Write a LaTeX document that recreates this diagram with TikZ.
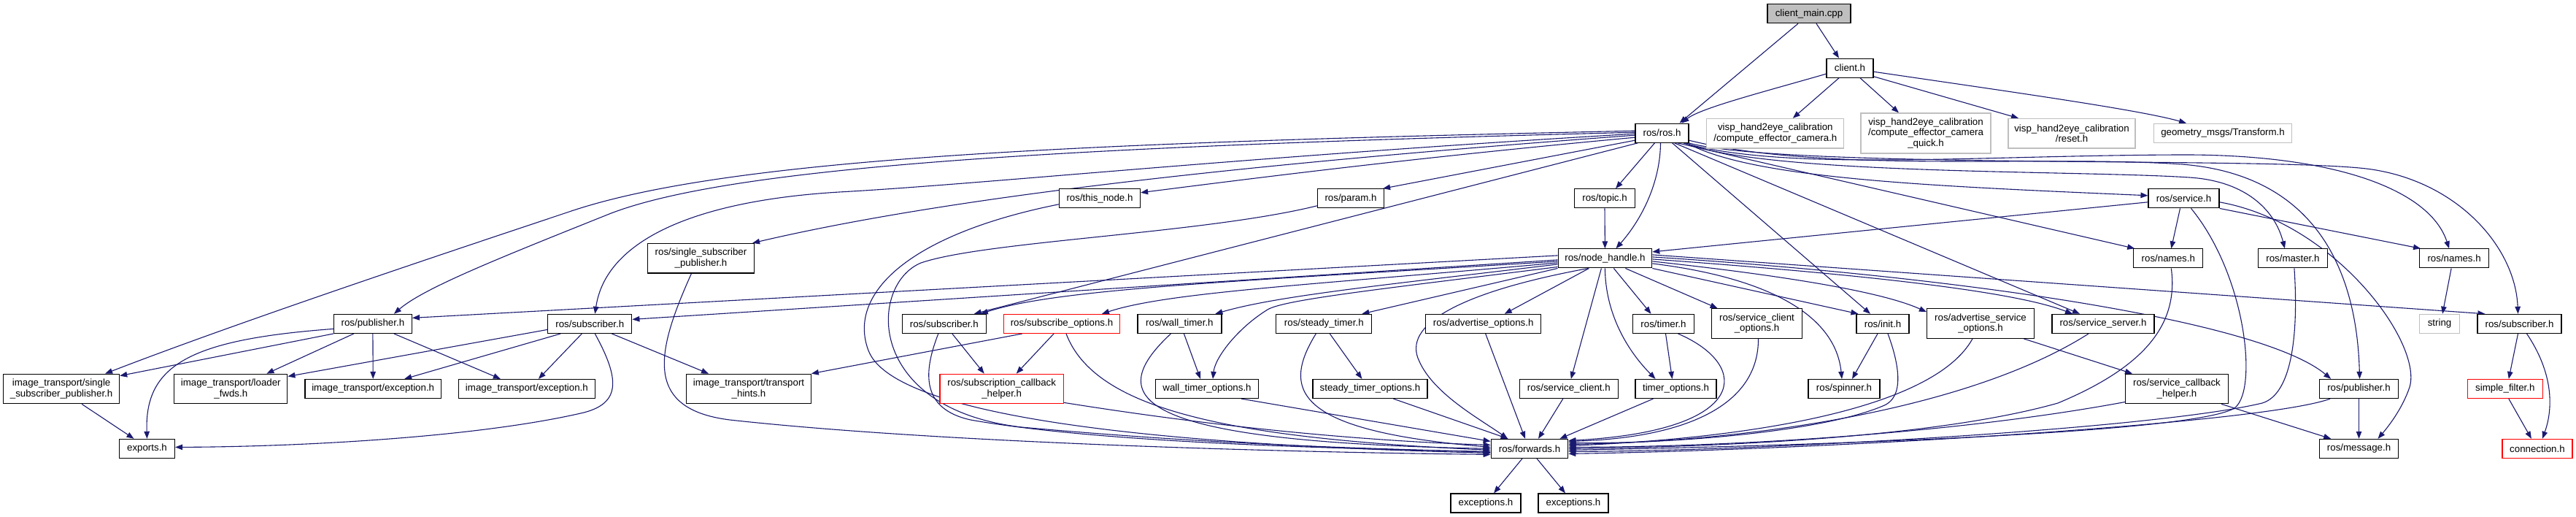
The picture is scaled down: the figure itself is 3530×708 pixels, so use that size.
\documentclass[tikz,border=0pt]{standalone}
\usepackage{fontspec}
\setmainfont{Liberation Sans}
\usetikzlibrary{arrows.meta,calc}
\definecolor{edgecol}{HTML}{191970}
\definecolor{greybd}{HTML}{BFBFBF}
\definecolor{redbd}{HTML}{FF0000}
\pgfdeclarelayer{bg}
\pgfsetlayers{bg,main}
\tikzset{
  box/.style={draw=black, line width=1.2pt, fill=white, inner sep=0pt, align=center,
    font=\fontsize{13.3pt}{14.5pt}\selectfont, minimum height=26pt},
  greybox/.style={box, draw=greybd},
  redbox/.style={box, draw=redbd},
  rootbox/.style={box, fill=greybd},
  two/.style={minimum height=40.5pt},
  three/.style={minimum height=55pt},
  edge/.style={draw=edgecol, line width=1.1pt, -{Triangle[length=10pt,width=7.5pt]}}
}
\begin{document}
\begin{tikzpicture}[x=1pt,y=-1pt]
\useasboundingbox (0,0) rectangle (3530,708);
% ---- nodes ----
\node[rootbox, minimum width=114pt] (cm) at (2479,18.7) {client\_main.cpp};
\node[box, minimum width=64pt] (clienth) at (2535,93.2) {client.h};
\node[box, minimum width=73pt] (rosh) at (2277.5,182.2) {ros/ros.h};
\node[greybox, two, minimum width=188pt] (vce) at (2432.8,182.7) {visp\_hand2eye\_calibration\\/compute\_effector\_camera.h};
\node[greybox, three, minimum width=178pt] (vq) at (2639,182.5) {visp\_hand2eye\_calibration\\/compute\_effector\_camera\\\_quick.h};
\node[greybox, two, minimum width=174pt] (vr) at (2839,182.7) {visp\_hand2eye\_calibration\\/reset.h};
\node[greybox, minimum width=189pt] (geo) at (3046,182.2) {geometry\_msgs/Transform.h};

\node[box, minimum width=111pt] (thisnode) at (1507,271.8) {ros/this\_node.h};
\node[box, minimum width=91pt] (param) at (1851,271.8) {ros/param.h};
\node[box, minimum width=83pt] (topic) at (2199,271.8) {ros/topic.h};
\node[box, minimum width=97pt] (service) at (2992.5,271.8) {ros/service.h};
\node[box, two, minimum width=146pt] (rssp) at (960.5,353.7) {ros/single\_subscriber\\\_publisher.h};

\node[box, minimum width=128.6pt] (nh) at (2199.4,353.9) {ros/node\_handle.h};
\node[box, minimum width=95pt] (names1) at (2971.3,353.9) {ros/names.h};
\node[box, minimum width=95pt] (master) at (3141.9,353.9) {ros/master.h};
\node[box, minimum width=95pt] (names2) at (3363.1,353.9) {ros/names.h};

\node[box, minimum width=107pt] (pubL) at (510.9,443.4) {ros/publisher.h};
\node[box, minimum width=115pt] (subL) at (808.3,443.4) {ros/subscriber.h};
\node[box, minimum width=115pt] (sub2) at (1293.8,443.4) {ros/subscriber.h};
\node[redbox, minimum width=159.5pt] (subopt) at (1455,443.4) {ros/subscribe\_options.h};
\node[box, minimum width=115pt] (walltimer) at (1616.4,443.4) {ros/wall\_timer.h};
\node[box, minimum width=131pt] (steady) at (1814.3,443.4) {ros/steady\_timer.h};
\node[box, minimum width=158pt] (advopt) at (2032.7,443.4) {ros/advertise\_options.h};
\node[box, minimum width=84pt] (timer) at (2279.5,443.4) {ros/timer.h};
\node[box, two, minimum width=124.6pt] (sco) at (2407.5,443) {ros/service\_client\\\_options.h};
\node[box, minimum width=72pt] (init) at (2580,443.4) {ros/init.h};
\node[box, two, minimum width=147pt] (aso) at (2714,443) {ros/advertise\_service\\\_options.h};
\node[box, minimum width=140pt] (sserver) at (2882,443.4) {ros/service\_server.h};
\node[greybox, minimum width=55pt] (string) at (3343,443.4) {string};
\node[box, minimum width=115pt] (sub3) at (3452.5,443.4) {ros/subscriber.h};

\node[box, two, minimum width=159pt] (itssp) at (84.1,532.5) {image\_transport/single\\\_subscriber\_publisher.h};
\node[box, two, minimum width=155pt] (itlf) at (316.3,532.5) {image\_transport/loader\\\_fwds.h};
\node[box, minimum width=186.6pt] (itex1) at (511.2,532.5) {image\_transport/exception.h};
\node[box, minimum width=186.6pt] (itex2) at (721.9,532.5) {image\_transport/exception.h};
\node[box, two, minimum width=170.5pt] (itth) at (1026,532.5) {image\_transport/transport\\\_hints.h};
\node[redbox, two, minimum width=169.4pt] (sch) at (1372.7,532.5) {ros/subscription\_callback\\\_helper.h};
\node[box, minimum width=140.7pt] (wto) at (1654,532.5) {wall\_timer\_options.h};
\node[box, minimum width=157pt] (sto) at (1877.4,532.5) {steady\_timer\_options.h};
\node[box, minimum width=135pt] (sclient) at (2149.8,532.5) {ros/service\_client.h};
\node[box, minimum width=111pt] (topt) at (2296.5,532.5) {timer\_options.h};
\node[box, minimum width=98pt] (spinner) at (2527,532.5) {ros/spinner.h};
\node[box, two, minimum width=141pt] (sch2) at (2983,532.5) {ros/service\_callback\\\_helper.h};
\node[box, minimum width=107.5pt] (pub2) at (3232.5,532.5) {ros/publisher.h};
\node[redbox, minimum width=103pt] (sfilter) at (3432.8,532.5) {simple\_filter.h};

\node[box, minimum width=76pt] (exports) at (201.5,614.4) {exports.h};
\node[box, minimum width=105.6pt] (fwd) at (2096,614.4) {ros/forwards.h};
\node[box, minimum width=107.5pt] (message) at (3232.5,614.4) {ros/message.h};
\node[redbox, minimum width=96pt] (conn) at (3476.9,614.4) {connection.h};

\node[box, minimum width=96pt] (exc1) at (2036,689) {exceptions.h};
\node[box, minimum width=96pt] (exc2) at (2156,689) {exceptions.h};

\begin{pgfonlayer}{bg}
\fill[white] (0,0) rectangle (3530,708);
% ---- edges: top ----
\draw[edge] ($(cm.south)+(-15,0)$) -- ($(rosh.north)+(24,0)$);
\draw[edge] ($(cm.south)+(10,0)$) -- ($(clienth.north)+(-15,0)$);
\draw[edge] ($(clienth.west)+(0,8)$) .. controls (2420,125) and (2330,148) .. ($(rosh.north)+(27,0)$);
\draw[edge] ($(clienth.south)+(-15,0)$) -- ($(vce.north)+(24,0)$);
\draw[edge] ($(clienth.south)+(14,0)$) -- ($(vq.north)+(-37,0)$);
\draw[edge] ($(clienth.south east)+(0,-2)$) -- ($(vr.north)+(-73,0)$);
\draw[edge] ($(clienth.east)+(0,5)$) .. controls (2750,125) and (2930,150) .. ($(geo.north)+(-50,0)$);

% ---- edges from ros/ros.h, left ----
\draw[edge] ($(rosh.west)+(0,-3)$) .. controls (1500,195) and (1000,215) .. (780,290) .. controls (600,350) and (330,440) .. ($(itssp.north)+(60,0)$);
\draw[edge] ($(rosh.west)+(0,-1)$) .. controls (1500,200) and (1000,225) .. (830,295) .. controls (680,355) and (580,395) .. ($(pubL.north)+(29,0)$);
\draw[edge] ($(rosh.west)+(0,1)$) .. controls (1700,215) and (1350,252) .. (1150,263) .. controls (950,275) and (830,330) .. ($(subL.north)+(7,0)$);
\draw[edge] ($(rosh.west)+(0,3)$) .. controls (1700,225) and (1300,270) .. ($(rssp.north east)+(-3,0)$);
\draw[edge] ($(rosh.west)+(0,6)$) .. controls (1950,215) and (1750,240) .. ($(thisnode.east)+(0,-8)$);
\draw[edge] ($(rosh.west)+(0,10)$) -- ($(param.north east)+(-2,0)$);
\draw[edge] ($(rosh.south west)+(4,0)$) -- ($(sub2.north)+(41,0)$);
\draw[edge] ($(rosh.south)+(-10,0)$) -- ($(topic.north)+(15,0)$);
\draw[edge] ($(rosh.south)+(-2,0)$) .. controls (2275,250) and (2250,300) .. ($(nh.north)+(15,0)$);
\draw[edge] (topic.south) -- (nh.north);

% ---- edges from ros/ros.h, right ----
\draw[edge] ($(rosh.south)+(14,0)$) -- ($(init.north)+(-17,0)$);
\draw[edge] ($(rosh.south)+(17,0)$) -- ($(sserver.north)+(-32,0)$);
\draw[edge] ($(rosh.south east)+(-16,0)$) -- ($(names1.north west)+(2,0)$);
\draw[edge] ($(rosh.south east)+(-3,0)$) .. controls (2400,245) and (2650,255) .. ($(service.west)+(0,-4)$);
\draw[edge] ($(rosh.south east)+(-6,0)$) .. controls (2420,240) and (2850,233) .. (3000,243) .. controls (3080,248) and (3118,290) .. ($(master.north)+(-11,0)$);
\draw[edge] ($(rosh.south east)+(-8,0)$) .. controls (2450,235) and (2700,213) .. (2987,212) .. controls (3200,211) and (3330,260) .. ($(names2.north)+(-7,0)$);
\draw[edge] ($(rosh.south east)+(-1,0)$) .. controls (2450,232) and (3130,214) .. (3250,232) .. controls (3370,250) and (3447,340) .. ($(sub3.north)+(-2,0)$);
\draw[edge] ($(rosh.east)+(0,10)$) .. controls (2500,238) and (2800,212) .. (2990,225) .. controls (3180,240) and (3230,380) .. ($(pub2.north)+(1,0)$);

% ---- edges from ros/node_handle.h ----
\draw[edge] ($(nh.west)+(0,-4)$) -- ($(pubL.east)+(0,-8)$);
\draw[edge] ($(nh.west)+(0,2)$) -- ($(subL.east)+(0,-6)$);
\draw[edge] ($(nh.west)+(0,4)$) .. controls (1700,385) and (1450,395) .. ($(sub2.north)+(50,0)$);
\draw[edge] ($(nh.west)+(0,6)$) .. controls (1800,390) and (1600,400) .. ($(subopt.north)+(55,0)$);
\draw[edge] ($(nh.west)+(0,8)$) .. controls (1900,390) and (1750,405) .. ($(walltimer.north)+(49,0)$);
\draw[edge] ($(nh.south west)+(0,-2)$) .. controls (1900,395) and (1760,410) .. (1737,424) .. controls (1695,450) and (1665,490) .. ($(wto.north)+(8,0)$);
\draw[edge] (nh.south west) -- ($(steady.north east)+(-14,0)$);
\draw[edge] ($(nh.south)+(-23,0)$) .. controls (2000,400) and (1920,445) .. (1945,495) .. controls (1965,540) and (2030,575) .. ($(fwd.north)+(-30,0)$);
\draw[edge] ($(nh.south)+(-22,0)$) -- ($(advopt.north)+(29,0)$);
\draw[edge] ($(nh.south)+(-5,0)$) -- ($(sclient.north)+(3,0)$);
\draw[edge] (nh.south) .. controls (2200,430) and (2230,480) .. ($(topt.north)+(-28,0)$);
\draw[edge] ($(nh.south)+(12,0)$) -- ($(timer.north)+(-17,0)$);
\draw[edge] ($(nh.south)+(28,0)$) -- ($(sco.north west)+(9,0)$);
\draw[edge] (nh.south east) -- ($(init.north west)+(3,0)$);
\draw[edge] ($(nh.east)+(0,7)$) .. controls (2420,380) and (2515,430) .. ($(spinner.north)+(-3,0)$);
\draw[edge] ($(nh.east)+(0,4)$) .. controls (2450,378) and (2580,400) .. ($(aso.north west)+(0,5)$);
\draw[edge] ($(nh.east)+(0,1)$) .. controls (2500,372) and (2750,395) .. ($(sserver.north)+(-42,0)$);
\draw[edge] ($(nh.east)+(0,-2)$) .. controls (2700,380) and (3100,440) .. ($(pub2.north west)+(16,0)$);
\draw[edge] ($(nh.east)+(0,-5)$) -- ($(sub3.north west)+(11,0)$);

% ---- edges from ros/service.h ----
\draw[edge] ($(service.west)+(0,5)$) -- ($(nh.east)+(0,-9)$);
\draw[edge] ($(service.south)+(-5,0)$) -- ($(names1.north)+(4,0)$);
\draw[edge] (service.south east) -- ($(names2.north west)+(2,0)$);
\draw[edge] ($(service.south)+(10,0)$) .. controls (3080,380) and (3095,542) .. (3060,560) .. controls (2990,596) and (2400,612) .. ($(fwd.east)+(0,2)$);
\draw[edge] ($(service.east)+(0,5)$) .. controls (3200,305) and (3320,470) .. (3302,530) .. controls (3292,560) and (3272,585) .. ($(message.north)+(26,0)$);

% ---- right part ----
\draw[edge] ($(names1.south)+(4,0)$) .. controls (2985,440) and (2945,500) .. (2820,552) .. controls (2650,600) and (2350,612) .. (fwd.east);
\draw[edge] ($(master.south)+(2,0)$) .. controls (3150,460) and (3140,540) .. (3100,552) .. controls (2950,588) and (2400,618) .. ($(fwd.east)+(0,4)$);
\draw[edge] ($(names2.south)+(-4,0)$) -- ($(string.north)+(4,0)$);
\draw[edge] ($(sub3.south)+(-2,0)$) -- ($(sfilter.north)+(5,0)$);
\draw[edge] ($(sub3.south)+(10,0)$) .. controls (3505,520) and (3495,570) .. ($(conn.north)+(7,0)$);
\draw[edge] ($(sfilter.south)+(5,0)$) -- ($(conn.north)+(-8,0)$);
\draw[edge] (pub2.south) -- (message.north);
\draw[edge] ($(pub2.south west)+(15,0)$) .. controls (3100,580) and (2500,616) .. ($(fwd.east)+(0,7)$);
\draw[edge] ($(sch2.south east)+(-10,0)$) -- ($(message.north west)+(16,0)$);
\draw[edge] ($(sch2.west)+(0,18)$) .. controls (2700,590) and (2400,612) .. ($(fwd.east)+(0,-2)$);
\draw[edge] ($(aso.south east)+(-15,0)$) -- ($(sch2.north)+(-61,0)$);
\draw[edge] ($(aso.south)+(-11,0)$) .. controls (2650,560) and (2400,600) .. ($(fwd.east)+(0,-4)$);
\draw[edge] ($(sserver.south)+(-20,0)$) .. controls (2700,560) and (2400,605) .. ($(fwd.east)+(0,-6)$);
\draw[edge] ($(init.south)+(-7,0)$) -- ($(spinner.north)+(11,0)$);
\draw[edge] ($(init.south)+(7,0)$) .. controls (2603,500) and (2610,545) .. (2580,556) .. controls (2500,590) and (2300,608) .. ($(fwd.east)+(0,-8)$);
\draw[edge] ($(sco.south)+(2,0)$) .. controls (2410,560) and (2300,600) .. ($(fwd.east)+(0,-10)$);
\draw[edge] ($(timer.south)+(20,0)$) .. controls (2400,500) and (2400,590) .. ($(fwd.east)+(0,-11)$);
\draw[edge] ($(timer.south)+(3,0)$) -- ($(topt.north)+(-5,0)$);
\draw[edge] ($(topt.south)+(-31,0)$) -- ($(fwd.north east)+(-12,0)$);
\draw[edge] ($(sclient.south)+(-8,0)$) -- ($(fwd.north)+(12,0)$);
\draw[edge] ($(advopt.south)+(3,0)$) -- ($(fwd.north)+(-6,0)$);

% ---- middle part ----
\draw[edge] ($(steady.south)+(8,0)$) -- ($(sto.north)+(-11,0)$);
\draw[edge] ($(steady.south)+(-11,0)$) .. controls (1755,535) and (1775,590) .. ($(fwd.west)+(0,-2)$);
\draw[edge] ($(sto.south)+(32,0)$) -- ($(fwd.north west)+(24,0)$);
\draw[edge] ($(wto.south east)+(-24,0)$) -- ($(fwd.west)+(0,-10)$);
\draw[edge] ($(walltimer.south)+(6,0)$) -- ($(wto.north)+(-9,0)$);
\draw[edge] ($(walltimer.south)+(-12,0)$) .. controls (1510,545) and (1550,605) .. (fwd.west);
\draw[edge] ($(sch.south east)+(0,-2)$) .. controls (1700,590) and (1900,605) .. ($(fwd.west)+(0,-5)$);
\draw[edge] ($(subopt.south west)+(26,0)$) -- (itth.north east);
\draw[edge] ($(subopt.south)+(-11,0)$) -- ($(sch.north)+(20,0)$);
\draw[edge] ($(subopt.south)+(6,0)$) .. controls (1500,560) and (1680,600) .. ($(fwd.west)+(0,2)$);
\draw[edge] ($(sub2.south)+(11,0)$) -- ($(sch.north)+(-24,0)$);
\draw[edge] ($(sub2.south)+(-8,0)$) .. controls (1265,510) and (1262,560) .. (1330,575) .. controls (1500,605) and (1800,614) .. ($(fwd.west)+(0,4)$);
\draw[edge] ($(rssp.south)+(-13,0)$) .. controls (900,480) and (880,560) .. (1000,575) .. controls (1300,608) and (1800,620) .. ($(fwd.west)+(0,8)$);
\draw[edge] ($(thisnode.west)+(0,8)$) .. controls (1250,320) and (1160,400) .. (1190,480) .. controls (1230,585) and (1700,612) .. ($(fwd.west)+(0,6)$);
\draw[edge] ($(param.west)+(0,10)$) .. controls (1650,320) and (1350,330) .. (1262,360) .. controls (1190,390) and (1185,560) .. (1400,585) .. controls (1700,612) and (1900,614) .. ($(fwd.west)+(0,5)$);

% ---- left part ----
\draw[edge] (pubL.south west) -- ($(itssp.north east)+(0,3)$);
\draw[edge] ($(pubL.west)+(0,7)$) .. controls (260,465) and (198,500) .. (exports.north);
\draw[edge] ($(pubL.south west)+(28,0)$) -- ($(itlf.north east)+(-29,0)$);
\draw[edge] (pubL.south) -- (itex1.north);
\draw[edge] ($(pubL.south)+(29,0)$) -- ($(itex2.north)+(-36,0)$);
\draw[edge] ($(subL.west)+(0,8)$) -- ($(itlf.east)+(0,-17)$);
\draw[edge] ($(subL.south west)+(18,0)$) -- ($(itex1.north)+(43,0)$);
\draw[edge] ($(subL.south)+(-11,0)$) -- ($(itex2.north)+(16,0)$);
\draw[edge] ($(subL.south)+(7,0)$) .. controls (850,520) and (850,552) .. (800,565) .. controls (650,600) and (400,612) .. ($(exports.east)+(0,-2)$);
\draw[edge] ($(subL.south east)+(-28,0)$) -- ($(itth.north)+(-55,0)$);
\draw[edge] ($(itssp.south)+(28,0)$) -- ($(exports.north)+(-18,0)$);

% ---- bottom ----
\draw[edge] ($(fwd.south)+(-10,0)$) -- ($(exc1.north)+(11,0)$);
\draw[edge] ($(fwd.south)+(10,0)$) -- ($(exc2.north)+(-11,0)$);
\end{pgfonlayer}
\end{tikzpicture}
\end{document}
